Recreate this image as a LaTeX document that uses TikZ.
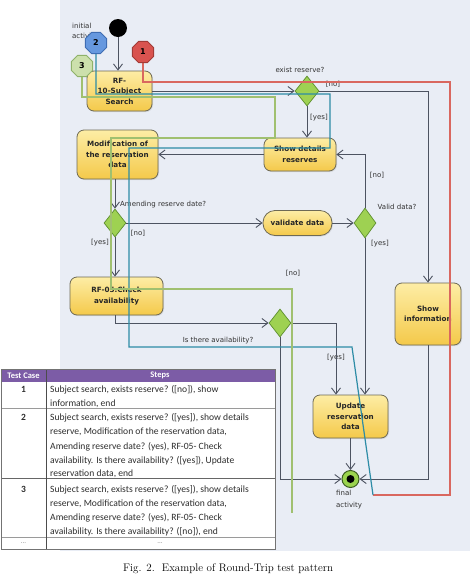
\documentclass[tikz,border=0pt]{standalone}
\usepackage{fontspec}
\newfontfamily\dfont{DejaVu Sans}
\newfontfamily\tfont{Carlito}
\usetikzlibrary{arrows.meta,shapes.geometric,shadows}
\definecolor{panelc}{HTML}{E9EDF5}
\definecolor{flowc}{HTML}{4D5361}
\definecolor{boxb}{HTML}{6E6A55}
\definecolor{boxt}{HTML}{FDEDA5}
\definecolor{boxbot}{HTML}{F4C94A}
\definecolor{decf}{HTML}{9ED152}
\definecolor{decb}{HTML}{5E8F2F}
\definecolor{redc}{HTML}{D9675F}
\definecolor{tealc}{HTML}{2D8CA6}
\definecolor{greenc}{HTML}{A0C070}
\definecolor{labc}{HTML}{333333}
\definecolor{bonef}{HTML}{D9534F}
\definecolor{boneb}{HTML}{A23B37}
\definecolor{btwof}{HTML}{6698DF}
\definecolor{btwob}{HTML}{3F6DB3}
\definecolor{bthreef}{HTML}{CCE0AC}
\definecolor{bthreeb}{HTML}{8FB26A}
\definecolor{hdrc}{HTML}{7C5CA6}
\definecolor{tblb}{HTML}{9A9A9A}
\definecolor{tabc}{HTML}{2E2E2E}
\definecolor{finf}{HTML}{9BD44E}
\definecolor{finb}{HTML}{3D5F22}
\pgfdeclarelayer{bg}
\pgfdeclarelayer{fg}
\pgfsetlayers{bg,main,fg}
\begin{document}
\begin{tikzpicture}[x=1pt,y=-1pt,
  flow/.style={draw=flowc, line width=0.9pt, -{Straight Barb[length=6pt,width=9pt]}},
  act/.style={draw=boxb, line width=0.8pt, rounded corners=7pt, top color=boxt, bottom color=boxbot,
    font={\dfont\bfseries\fontsize{7.2}{10.5}\selectfont}, text=black!85, align=center, inner sep=1pt,
    drop shadow={opacity=0.2, shadow xshift=1pt, shadow yshift=-1pt}},
  dec/.style={diamond, draw=decb, fill=decf, line width=0.7pt, inner sep=0pt},
  lbl/.style={font={\dfont\fontsize{7}{8}\selectfont}, text=labc, inner sep=0pt},
  badge/.style={regular polygon, regular polygon sides=8, minimum size=23pt, inner sep=0pt, line width=0.8pt,
    font={\dfont\bfseries\fontsize{8}{8}\selectfont}},
  redp/.style={draw=redc, line width=1.2pt},
  tealp/.style={draw=tealc, line width=1.2pt},
  greenp/.style={draw=greenc, line width=1.2pt},
  tt/.style={font={\tfont\fontsize{9.6}{11}\selectfont}, text=tabc, inner sep=0pt, anchor=base west},
  tn/.style={font={\tfont\bfseries\fontsize{9.5}{11}\selectfont}, text=tabc, inner sep=0pt},
  tblline/.style={draw=tblb, line width=1pt}]
\useasboundingbox (0,0) rectangle (474,574);
\begin{pgfonlayer}{bg}
\fill[white] (0,0) rectangle (474,574);
\fill[panelc] (60,0) rectangle (470,551);
\end{pgfonlayer}

% initial / final
\node[circle, fill=black, minimum size=18pt, inner sep=0pt] (init) at (118,28) {};
\node[lbl, anchor=west, align=left] (initl) at (72,32) {initial\\[2pt]activity};
\node[circle, draw=finb, fill=finf, line width=1pt, minimum size=17pt, inner sep=0pt] (fin) at (350.5,479) {};
\node[circle, fill=black, minimum size=8pt, inner sep=0pt] (find) at (fin) {};
\node[lbl, anchor=west] (finl1) at (336,493) {final};
\node[lbl, anchor=west] (finl2) at (336,506) {activity};

% activities
\node[act, minimum width=65pt, minimum height=40pt] (rf10) at (119.5,91) {RF-\\10-Subject\\Search};
\node[act, minimum width=81pt, minimum height=49pt] (mod) at (117.5,154.5) {Modification of\\the reservation\\data};
\node[act, minimum width=72pt, minimum height=33pt] (show) at (300,154.5) {Show details\\reserves};
\node[act, minimum width=69pt, minimum height=25pt, rounded corners=12pt] (valid) at (297.5,223) {validate data};
\node[act, minimum width=93pt, minimum height=38pt] (rf05) at (116.5,296) {RF-05.Check\\availability};
\node[act, minimum width=66pt, minimum height=62pt] (info) at (428,314) {Show\\information};
\node[act, minimum width=75pt, minimum height=43pt] (update) at (350.5,416.5) {Update\\reservation\\data};

% decisions
\node[dec, minimum width=24pt, minimum height=30pt] (d1) at (307,91) {};
\node[dec, minimum width=22pt, minimum height=28pt] (d2) at (115,223) {};
\node[dec, minimum width=22pt, minimum height=30pt] (d3) at (365,223) {};
\node[dec, minimum width=22pt, minimum height=28pt] (d4) at (280,323) {};

% labels
\node[lbl] (la) at (300,70) {exist reserve?};
\node[lbl] (lb) at (333,84) {[no]};
\node[lbl] (lc) at (319,118) {[yes]};
\node[lbl] (ld) at (377,175) {[no]};
\node[lbl] (le) at (397,207) {Valid data?};
\node[lbl] (lf) at (380,244) {[yes]};
\node[lbl, anchor=west] (lg) at (120,205) {Amending reserve date?};
\node[lbl] (lh) at (138,233) {[no]};
\node[lbl] (li) at (100,243) {[yes]};
\node[lbl] (lj) at (293,273) {[no]};
\node[lbl] (lk) at (218,341) {Is there availability?};
\node[lbl] (ll) at (336,358) {[yes]};

% control flow
\draw[flow] (init.south) -- (init.south |- rf10.north);
\draw[flow] (rf10.east) -- (d1.west);
\draw[flow] (d1.south) -- (d1.south |- show.north);
\draw[flow] (show.west) -- (mod.east);
\draw[flow] (d1.east) -| (info.north);
\draw[flow] (mod.south -| d2.north) -- (d2.north);
\draw[flow] (d2.east) -- (valid.west);
\draw[flow] (valid.east) -- (d3.west);
\draw[flow] (d3.north) |- (show.east);
\draw[flow] (d3.south) -- (d3.south |- update.north);
\draw[flow] (d2.south) -- (d2.south |- rf05.north);
\draw[flow] (rf05.south -| d2.south) |- (d4.west);
\draw[flow] (d4.east) -| ([xshift=-14.5pt]update.north);
\draw[flow] (d4.south) |- (fin.west);
\draw[flow] (info.south) |- (fin.east);
\draw[flow] (update.south) -- (fin.north);

% test path badges
\begin{pgfonlayer}{fg}
\node[badge, fill=bonef, draw=boneb] (b1) at (143,52) {1};
\node[badge, fill=btwof, draw=btwob] (b2) at (96,43) {2};
\node[badge, fill=bthreef, draw=bthreeb] (b3) at (82,66) {3};
\end{pgfonlayer}

% test paths
\coordinate (pend) at (373,495);
\coordinate (gend) at (292,513);
\draw[redp] (b1.south) |- (450,82) |- (pend);
\draw[tealp] (b2.south) |- (330,94) |- (129,148) |- (352,347) -- (pend);
\draw[greenp] (b3.south) |- (275,97) |- (111,138) |- (292,289) -- (gend);

% table
\fill[white] (1,369) rectangle (275,549);
\fill[hdrc] (1,369) rectangle (275,382);
\draw[tblline] (1,408) -- (275,408);
\draw[draw=black!60, line width=1pt] (1,478.5) -- (275,478.5);
\draw[tblline] (1,537) -- (275,537);
\draw[draw=black!70, line width=1pt] (46,369) -- (46,549);
\draw[draw=black!55, line width=1pt] (1,369) rectangle (275,549);
\node[font={\tfont\bfseries\fontsize{8.5}{9}\selectfont}, text=white, inner sep=0pt] (h1) at (23.5,375.5) {Test Case};
\node[font={\tfont\bfseries\fontsize{8.5}{9}\selectfont}, text=white, inner sep=0pt] (h2) at (160,375.5) {Steps};
\node[tn] (n1) at (23.5,389) {1};
\node[tn] (n2) at (23.5,417) {2};
\node[tn] (n3) at (23.5,489) {3};
\node[tn, text=black!45, font={\tfont\fontsize{7}{8}\selectfont}] (n4) at (23.5,543) {...};
\node[tn, text=black!45, font={\tfont\fontsize{7}{8}\selectfont}] (n5) at (160,543) {...};
\node[tt] (r1a) at (50,392) {Subject search, exists reserve? ([no]), show};
\node[tt] (r1b) at (50,406) {information, end};
\node[tt] (r2a) at (50,420) {Subject search, exists reserve? ([yes]), show details};
\node[tt] (r2b) at (50,434.5) {reserve, Modification of the reservation data,};
\node[tt] (r2c) at (50,449) {Amending reserve date? (yes), RF-05- Check};
\node[tt] (r2d) at (50,463) {availability. Is there availability? ([yes]), Update};
\node[tt] (r2e) at (50,476) {reservation data, end};
\node[tt] (r3a) at (50,492) {Subject search, exists reserve? ([yes]), show details};
\node[tt] (r3b) at (50,506) {reserve, Modification of the reservation data,};
\node[tt] (r3c) at (50,520) {Amending reserve date? (yes), RF-05- Check};
\node[tt] (r3d) at (50,534) {availability. Is there availability? ([no]), end};

% caption
\node[anchor=base west, font=\fontsize{11}{13}\selectfont, inner sep=0pt] (cap) at (123,571) {Fig. 2.\ \ Example of Round-Trip test pattern};
\end{tikzpicture}
\end{document}
